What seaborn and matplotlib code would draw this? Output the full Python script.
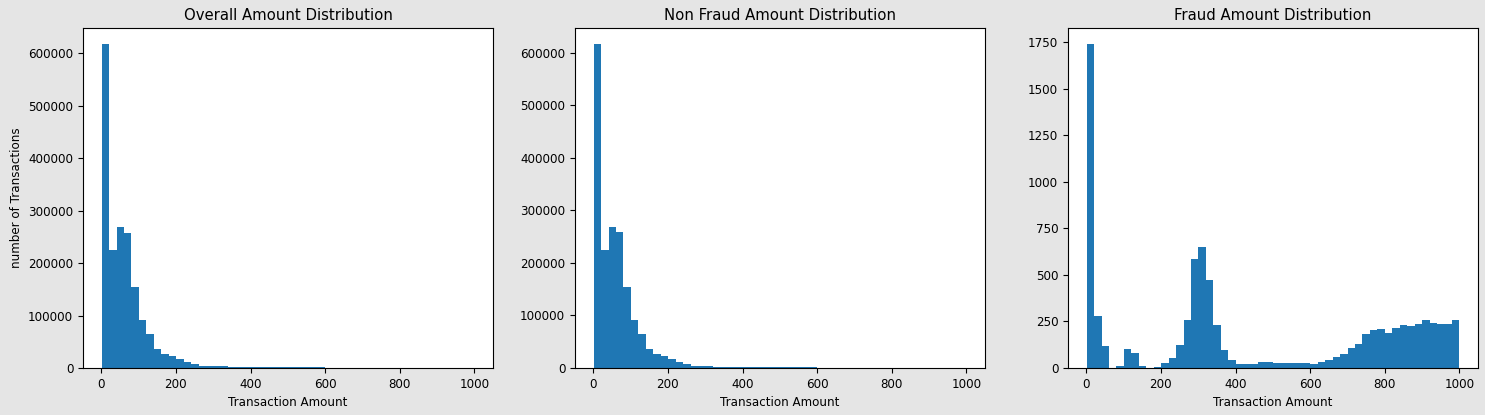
import numpy as np
import pandas as pd
import matplotlib
matplotlib.use("Agg")
import matplotlib.pyplot as plt
import seaborn as sns

# histogram counts (50 bins from 1 to 1000)
bin_edges = np.linspace(1, 1000, 51)

non_fraud_counts = [616000, 225000, 268000, 258000, 155000, 92000, 64000, 37000, 26000, 23000,
                    18000, 11500, 7000, 4200, 3800, 3400, 2600, 2400, 2300, 2200,
                    2100, 2000, 1900, 1800, 1700, 1600, 1500, 1400, 1300, 1200,
                    0, 0, 0, 0, 0, 0, 0, 0, 0, 0,
                    0, 0, 0, 0, 0, 0, 0, 0, 0, 0]

fraud_counts = [1740, 278, 116, 0, 12, 102, 82, 12, 1, 7,
                29, 56, 124, 256, 586, 652, 471, 229, 95, 41,
                22, 22, 22, 34, 34, 27, 27, 27, 27, 27,
                22, 30, 41, 61, 77, 109, 131, 183, 202, 210,
                190, 217, 231, 224, 237, 256, 244, 237, 237, 256]

overall_counts = [a + b for a, b in zip(non_fraud_counts, fraud_counts)]

titles = ["Overall Amount Distribution", "Non Fraud Amount Distribution", "Fraud Amount Distribution"]

plt.rcParams["font.size"] = 8.6
bin_centers = (bin_edges[:-1] + bin_edges[1:]) / 2

fig = plt.figure(figsize=(14.85, 4.15), dpi=100, facecolor="#e5e5e5")
lefts = [83 / 1485, 575 / 1485, 1068 / 1485]

for left, counts, title in zip(lefts, [overall_counts, non_fraud_counts, fraud_counts], titles):
    ax = fig.add_axes([left, 47 / 415, 410 / 1485, 340 / 415])
    df = pd.DataFrame({"amount": bin_centers, "n": counts})
    sns.histplot(data=df, x="amount", weights="n", bins=list(bin_edges), ax=ax,
                 color="#1f77b4", alpha=1, linewidth=0)
    ax.set_title(title, fontsize=10.7)
    ax.set_xlabel("Transaction Amount")
    ax.set_ylabel("")
    ax.set_xticks([0, 200, 400, 600, 800, 1000])

fig.axes[0].set_ylabel("number of Transactions")

plt.savefig("out.png", facecolor=fig.get_facecolor())
